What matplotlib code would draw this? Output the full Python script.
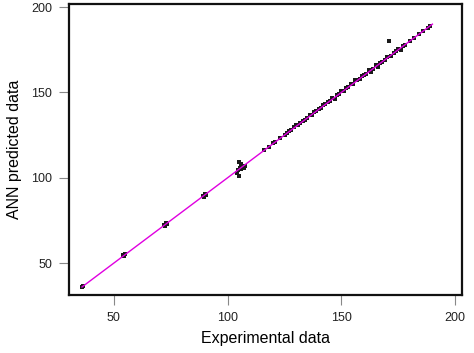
import matplotlib.pyplot as plt

plt.rcParams['font.family'] = ['Liberation Sans', 'DejaVu Sans']

# experimental vs ANN predicted values
experimental = [36, 36.5, 54, 54.5, 55, 72, 72.5, 73, 73.5, 89, 89.5, 90, 90.5,
                104, 104.5, 105, 105, 105.5, 106, 106, 106.5, 107, 107.5,
                116, 118, 120, 121, 123, 125, 126, 127, 128, 129, 130, 131, 132,
                133, 134, 135, 136, 137, 138, 139, 140, 141, 142, 143, 144, 145,
                146, 147, 148, 149, 150, 151, 152, 153, 154, 155, 156, 157, 158,
                159, 160, 161, 162, 163, 164, 165, 166, 167, 168, 169, 170, 171,
                172, 173, 174, 175, 176, 177, 178, 180, 182, 184, 186, 188, 189]
predicted = [36, 36.5, 54.5, 54, 55.5, 72.5, 72, 73.5, 73, 89.5, 89, 90.5, 90,
             103, 104.5, 101, 109, 106, 105, 108, 107, 106, 107,
             116, 118, 120.5, 121, 123.5, 125, 126, 127.5, 128, 129.5, 131, 131, 132,
             133.5, 134, 135, 136.5, 137, 138.5, 139, 140.5, 141, 142.5, 143, 144.5, 145,
             146.5, 146, 148.5, 149, 151, 151, 152.5, 153, 155, 155, 157, 157, 158,
             159.5, 160, 161, 163, 162, 164, 166, 165, 167.5, 168, 169, 170.5, 180,
             171.5, 173, 174, 175.5, 175, 177, 178, 180, 182, 184, 186, 188, 189]
line_x = [36, 190]

fig = plt.figure(figsize=(4.74, 3.53), dpi=100)
ax = fig.add_axes([0.1456, 0.1643, 0.8291, 0.8244])

ax.scatter(experimental, predicted, s=6, marker='s', color='#1a1a1a',
           linewidths=0, zorder=3)
ax.plot(line_x, line_x, color='#e000e0', linewidth=1.0, zorder=4)

ax.set_xlim(30.3, 203)
ax.set_ylim(31.3, 201.8)
ax.set_xticks([50, 100, 150, 200])
ax.set_yticks([50, 100, 150, 200])
ax.tick_params(direction='out', length=7, width=0.8, color='#888888',
               labelsize=9, labelcolor='#222222', pad=5)
for s in ax.spines.values():
    s.set_linewidth(1.6)
    s.set_color('#111111')

ax.set_xlabel('Experimental data', fontsize=11.5, labelpad=5)
ax.set_ylabel('ANN predicted data', fontsize=11.5, labelpad=7)

fig.savefig('out.png', dpi=100)
